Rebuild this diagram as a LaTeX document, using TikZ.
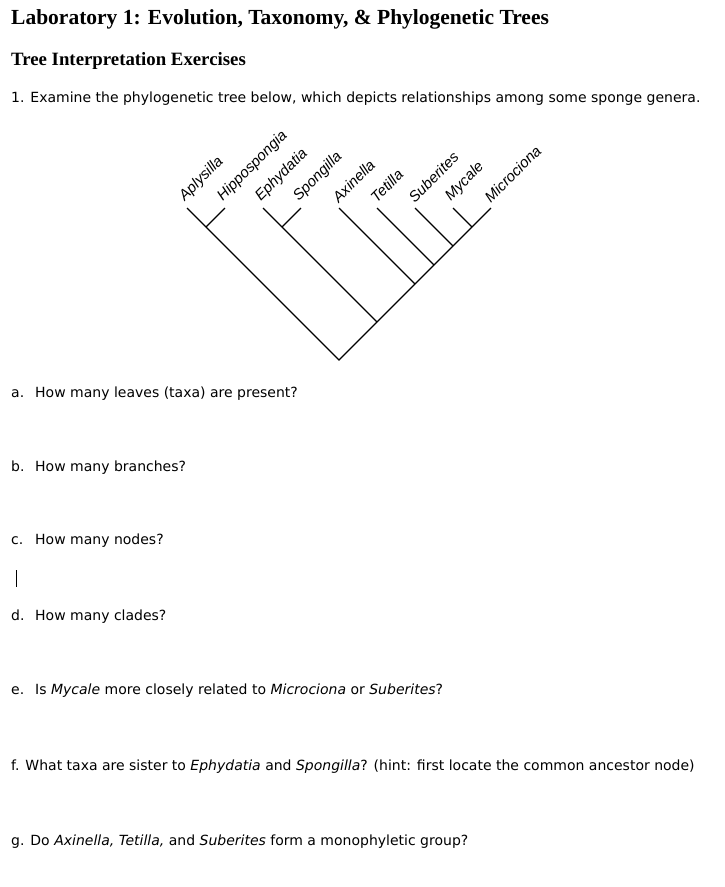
\documentclass[tikz,border=0pt]{standalone}
\usepackage{fontspec}
\setmainfont{DejaVu Sans}
\newfontfamily\titlefont{Liberation Serif}
\newfontfamily\labelfont{Liberation Sans}
\begin{document}
\begin{tikzpicture}[x=1pt,y=-1pt,
  titletxt/.style={anchor=base west,inner sep=0pt,font=\titlefont\bfseries\fontsize{21.5}{24}\selectfont},
  headtxt/.style={anchor=base west,inner sep=0pt,font=\titlefont\bfseries\fontsize{18.8}{21}\selectfont},
  txt/.style={anchor=base west,inner sep=0pt,font=\fontsize{14}{16}\selectfont},
  taxon/.style={anchor=south west,rotate=45,inner sep=3pt,font=\labelfont\itshape\fontsize{15}{17}\selectfont},
  branch/.style={line width=1.1pt}]
\useasboundingbox (0,0) rectangle (725,887);

% header
\node[titletxt] (title) at (11,24) {Laboratory 1: Evolution, Taxonomy, \& Phylogenetic Trees};
\node[headtxt] (head) at (11,65) {Tree Interpretation Exercises};
\node[txt] (intro) at (11,102) {1. Examine the phylogenetic tree below, which depicts relationships among some sponge genera.};

% tree: leaves 38 apart, branches at 45 degrees
\foreach \name [count=\i from 0] in {Aplysilla,Hippospongia,Ephydatia,Spongilla,Axinella,Tetilla,Suberites,Mycale,Microciona}
  \node[taxon] (\name) at (187+38*\i,208) {\name};
\coordinate (ah) at (206,227);
\coordinate (es) at (282,227);
\coordinate (mm) at (472,227);
\coordinate (smm) at (453,246);
\coordinate (tsmm) at (434,265);
\coordinate (atsmm) at (415,284);
\coordinate (core) at (377,322);
\coordinate (root) at (339,360);
\draw[branch] (Aplysilla.south west) -- (root) -- (Microciona.south west);
\draw[branch] (Hippospongia.south west) -- (ah);
\draw[branch] (Ephydatia.south west) -- (core);
\draw[branch] (Spongilla.south west) -- (es);
\draw[branch] (Axinella.south west) -- (atsmm);
\draw[branch] (Tetilla.south west) -- (tsmm);
\draw[branch] (Suberites.south west) -- (smm);
\draw[branch] (Mycale.south west) -- (mm);

% questions
\node[txt] (qa) at (11,397) {\makebox[24pt][l]{a.}How many leaves (taxa) are present?};
\node[txt] (qb) at (11,471) {\makebox[24pt][l]{b.}How many branches?};
\node[txt] (qc) at (11,544) {\makebox[24pt][l]{c.}How many nodes?};
\draw[line width=0.8pt] (16,570) -- (16,587);
\node[txt] (qd) at (11,620) {\makebox[24pt][l]{d.}How many clades?};
\node[txt] (qe) at (11,694) {\makebox[24pt][l]{e.}Is \textit{Mycale} more closely related to \textit{Microciona} or \textit{Suberites}?};
\node[txt] (qf) at (11,770) {f. What taxa are sister to \textit{Ephydatia} and \textit{Spongilla}? (hint: first locate the common ancestor node)};
\node[txt] (qg) at (11,845) {g. Do \textit{Axinella, Tetilla,} and \textit{Suberites} form a monophyletic group?};
\end{tikzpicture}
\end{document}
